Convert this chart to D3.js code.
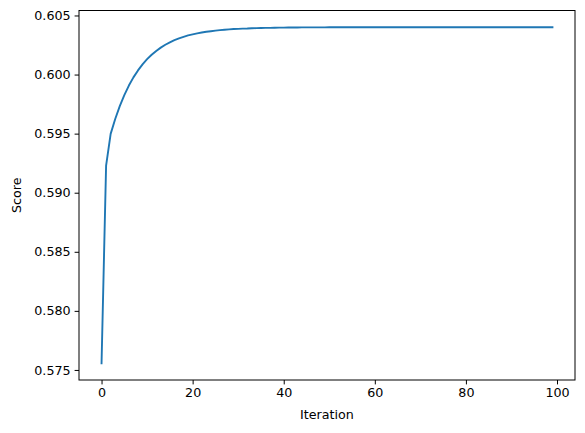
<!DOCTYPE html>
<html>
<head>
<meta charset="utf-8">
<script src="https://cdn.jsdelivr.net/npm/d3@7"></script>
<style>
  body { margin: 0; background: #fff; }
  svg { display: block; font-family: "DejaVu Sans", sans-serif; }
  .axis text { font-family: "DejaVu Sans", sans-serif; font-size: 12.7px; fill: #000; }
  .axis path, .axis line { stroke: #000; stroke-width: 1px; }
</style>
</head>
<body>
<div id="chart"></div>
<script>
// Score per iteration
const scores = [
  0.57557, 0.59230, 0.59498, 0.59624, 0.59733, 0.59826, 0.59907, 0.59976, 0.60035, 0.60086,
  0.60130, 0.60168, 0.60200, 0.60228, 0.60252, 0.60273, 0.60291, 0.60306, 0.60319, 0.60331,
  0.60340, 0.60349, 0.60356, 0.60362, 0.60367, 0.60372, 0.60376, 0.60379, 0.60382, 0.60385,
  0.60387, 0.60389, 0.60390, 0.60392, 0.60393, 0.60394, 0.60395, 0.60395, 0.60396, 0.60397,
  0.60397, 0.60398, 0.60398, 0.60398, 0.60399, 0.60399, 0.60399, 0.60399, 0.60399, 0.60399,
  0.60400, 0.60400, 0.60400, 0.60400, 0.60400, 0.60400, 0.60400, 0.60400, 0.60400, 0.60400,
  0.60400, 0.60400, 0.60400, 0.60400, 0.60400, 0.60400, 0.60400, 0.60400, 0.60400, 0.60400,
  0.60400, 0.60400, 0.60400, 0.60400, 0.60400, 0.60400, 0.60400, 0.60400, 0.60400, 0.60400,
  0.60400, 0.60400, 0.60400, 0.60400, 0.60400, 0.60400, 0.60400, 0.60400, 0.60400, 0.60400,
  0.60400, 0.60400, 0.60400, 0.60400, 0.60400, 0.60400, 0.60400, 0.60400, 0.60400, 0.60400
];
const iterations = scores.map((d, i) => i);
const xTicks = [0, 20, 40, 60, 80, 100];
const yTicks = [0.575, 0.580, 0.585, 0.590, 0.595, 0.600, 0.605];

const width = 585;
const height = 433;
const margin = { top: 10.5, right: 10, bottom: 53, left: 79 };

const svg = d3.select("#chart").append("svg")
  .attr("width", width)
  .attr("height", height);

// matplotlib-style 5% padding on both axes
const [x0, x1] = d3.extent(iterations);
const xPad = (x1 - x0) * 0.05;
const [y0, y1] = d3.extent(scores);
const yPad = (y1 - y0) * 0.05;

const x = d3.scaleLinear()
  .domain([x0 - xPad, x1 + xPad])
  .range([margin.left, width - margin.right]);

const y = d3.scaleLinear()
  .domain([y0 - yPad, y1 + yPad])
  .range([height - margin.bottom, margin.top]);

// Axes
svg.append("g")
  .attr("class", "axis")
  .attr("transform", `translate(0,${height - margin.bottom})`)
  .call(d3.axisBottom(x).tickValues(xTicks).tickSize(4.4).tickPadding(4).tickSizeOuter(0))
  .call(g => g.select(".domain").remove());

svg.append("g")
  .attr("class", "axis")
  .attr("transform", `translate(${margin.left},0)`)
  .call(d3.axisLeft(y).tickValues(yTicks).tickFormat(d3.format(".3f")).tickSize(4.4).tickPadding(4).tickSizeOuter(0))
  .call(g => g.select(".domain").remove());

// Frame
svg.append("rect")
  .attr("x", margin.left)
  .attr("y", margin.top)
  .attr("width", width - margin.left - margin.right)
  .attr("height", height - margin.top - margin.bottom)
  .attr("fill", "none")
  .attr("stroke", "#000")
  .attr("stroke-width", 1);

// Line
const line = d3.line()
  .x((d, i) => x(iterations[i]))
  .y(d => y(d));

svg.append("path")
  .datum(scores)
  .attr("fill", "none")
  .attr("stroke", "#1f77b4")
  .attr("stroke-width", 1.9)
  .attr("stroke-linejoin", "round")
  .attr("stroke-linecap", "square")
  .attr("d", line);

// Labels
svg.append("text")
  .attr("x", (margin.left + width - margin.right) / 2)
  .attr("y", 419)
  .attr("text-anchor", "middle")
  .attr("font-size", "12.7px")
  .text("Iteration");

svg.append("text")
  .attr("transform", `translate(21,${(margin.top + height - margin.bottom) / 2}) rotate(-90)`)
  .attr("text-anchor", "middle")
  .attr("font-size", "12.7px")
  .text("Score");
</script>
</body>
</html>
